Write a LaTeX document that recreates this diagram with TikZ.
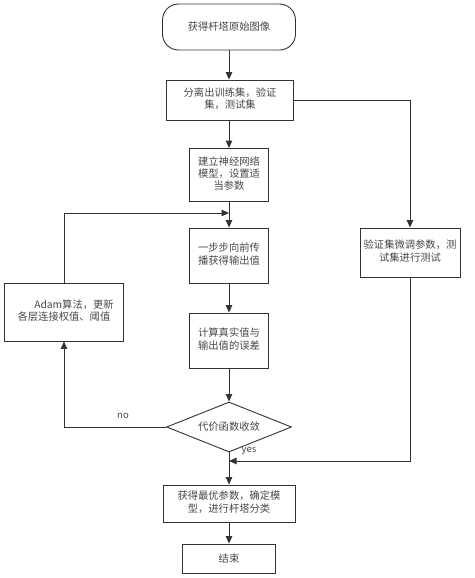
\documentclass[tikz,border=0pt]{standalone}
\usepackage{fontspec}
\newfontfamily\cjk{Noto Sans CJK SC}
\usetikzlibrary{arrows.meta,shapes.geometric}
\newcommand\ctab[1]{\begin{tabular}{@{}c@{}}#1\end{tabular}}
\begin{document}
\begin{tikzpicture}[x=1pt,y=-1pt,
  every node/.style={font=\cjk\fontsize{10.3}{12.3}\selectfont, text=black!72},
  box/.style={draw=black!80, line width=0.9pt, inner sep=2pt},
  term/.style={box, rounded corners=16pt},
  dec/.style={draw=black!80, line width=0.9pt, diamond, aspect=2.5, inner sep=0pt},
  lbl/.style={font=\cjk\fontsize{9.5}{11}\selectfont, text=black!72},
  conn/.style={draw=black!80, line width=0.9pt, -{Triangle[length=7.5pt,width=6.5pt]}},
  line/.style={draw=black!80, line width=0.9pt}]
\useasboundingbox (0,0) rectangle (474,578);
\node[term, minimum width=133pt, minimum height=46pt] (start) at (229,27) {获得杆塔原始图像};
\node[box, minimum width=127pt, minimum height=40pt] (split) at (230,100) {\ctab{分离出训练集，验证\\集，测试集}};
\node[box, minimum width=79pt, minimum height=53pt] (build) at (229,175) {\ctab{建立神经网络\\模型，设置适\\当参数}};
\node[box, minimum width=79pt, minimum height=55pt] (fwd) at (229,255.5) {\ctab{一步步向前传\\播获得输出值}};
\node[box, minimum width=79pt, minimum height=55pt] (err) at (229,340.5) {\ctab{计算真实值与\\输出值的误差}};
\node[dec, minimum width=125pt, minimum height=50pt] (conv) at (229,427) {代价函数收敛};
\node[box, minimum width=119pt, minimum height=58pt] (adam) at (64,312) {\ctab{\hspace*{20pt}Adam算法，更新\\各层连接权值、阈值}};
\node[box, minimum width=100pt, minimum height=49pt] (val) at (410,252.5) {\ctab{验证集微调参数，测\\试集进行测试}};
\node[box, minimum width=132pt, minimum height=37pt] (best) at (229,503.5) {\ctab{获得最优参数，确定模\\型，进行杆塔分类}};
\node[box, minimum width=93pt, minimum height=29pt] (end) at (229,558.5) {结束};
\coordinate (merge) at (229,461);
\coordinate (loopin) at (229,213);
\node[lbl] (no) at (123,416) {no};
\node[lbl] (yes) at (249,451) {yes};
\draw[conn] (start) -- (start |- split.north);
\draw[conn] (start |- split.south) -- (build);
\draw[conn] (build) -- (fwd);
\draw[conn] (fwd) -- (err);
\draw[conn] (err) -- (conv);
\draw[line] (conv.south) -- (merge);
\draw[conn] (merge) -- (best);
\draw[conn] (best) -- (end);
\draw[conn] (split.east) -| (val.north);
\draw[conn] (val.south) |- (merge);
\draw[conn] (conv.west) -| (adam.south);
\draw[conn] (adam.north) |- (loopin);
\end{tikzpicture}
\end{document}
